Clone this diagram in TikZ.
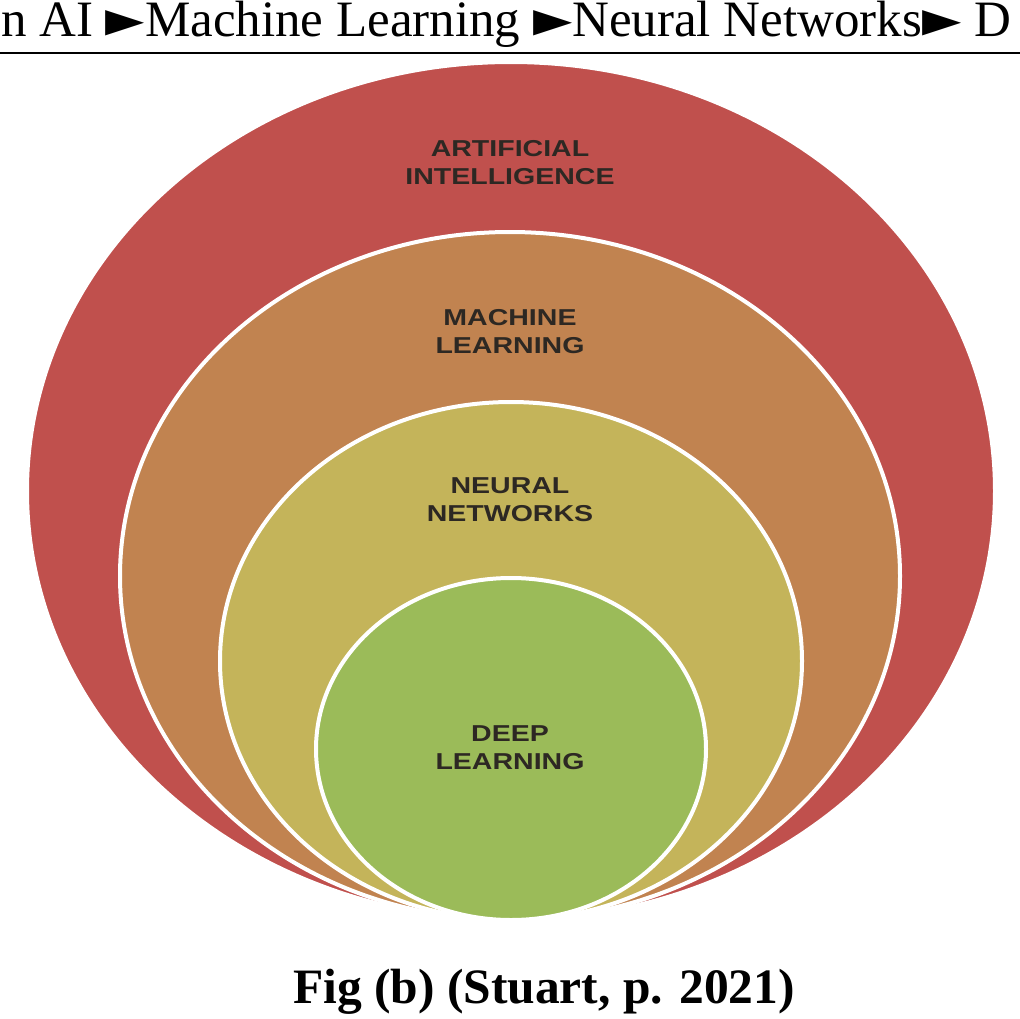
\documentclass[tikz,border=0pt]{standalone}
\usepackage{fontspec}
\setmainfont{Liberation Serif}
\newfontfamily\lsans{Liberation Sans}
\newfontfamily\djv{DejaVu Sans}
\newcommand{\tri}{{\djv\char"25BA}}
\definecolor{cred}{RGB}{192,80,77}
\definecolor{corange}{RGB}{193,131,80}
\definecolor{cyellow}{RGB}{196,180,90}
\definecolor{cgreen}{RGB}{155,187,89}
\definecolor{ctext}{RGB}{45,40,35}
\begin{document}
\begin{tikzpicture}[x=1pt,y=-1pt,
  ring/.style={draw=white,line width=4pt},
  lab/.style={font=\lsans\bfseries\fontsize{23}{28}\selectfont,text=ctext,align=center,xscale=1.24}]
\useasboundingbox (0,0) rectangle (1020,1018);
\clip (0,0) rectangle (1020,1018);
\node[anchor=base,font=\fontsize{51}{55}\selectfont,inner sep=0] (top) at (506,36) {n AI \tri Machine Learning \tri Neural Networks\tri{} D};
\draw[line width=1.5pt] (0,53) -- (1020,53);
\fill[cred,ring] (511,491) ellipse [x radius=484,y radius=429];
\fill[corange,ring] (510,576) ellipse [x radius=390,y radius=344];
\fill[cyellow,ring] (511,661) ellipse [x radius=291,y radius=259];
\fill[cgreen,ring] (511,749) ellipse [x radius=195,y radius=171];
\node[lab] (ai) at (510,163) {ARTIFICIAL\\INTELLIGENCE};
\node[lab] (ml) at (510,332) {MACHINE\\LEARNING};
\node[lab] (nn) at (510,500) {NEURAL\\NETWORKS};
\node[lab] (dl) at (510,748) {DEEP\\LEARNING};
\node[anchor=base,font=\bfseries\fontsize{49.5}{53}\selectfont,inner sep=0] (cap) at (544,1003) {Fig (b) (Stuart, p. 2021)};
\end{tikzpicture}
\end{document}
